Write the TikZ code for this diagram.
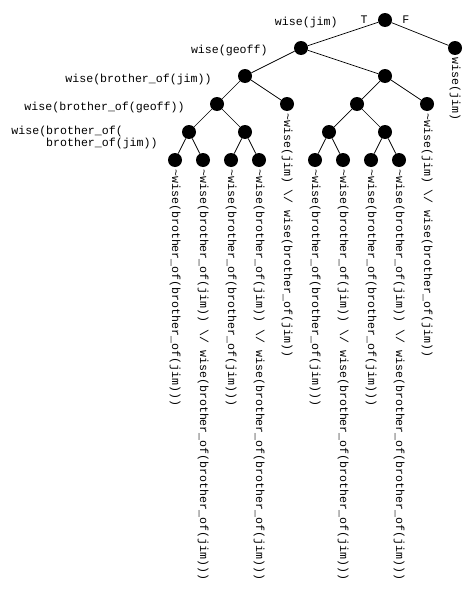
\documentclass[tikz,border=0pt]{standalone}
\usepackage{fontspec}
\setmonofont{Liberation Mono}
\usetikzlibrary{positioning}
\newcommand{\lblfont}{\ttfamily\fontsize{11.6}{12}\selectfont}
\newcommand{\nt}{\textasciitilde}
\tikzset{
    dot/.style={circle, fill=black, inner sep=0pt, minimum size=14pt},
    branch/.style={line width=0.7pt},
    levelLabel/.style={anchor=east, inner sep=0pt, font=\lblfont},
    leafLabel/.style={rotate=-90, anchor=west, inner sep=2pt, font=\lblfont}
}

\begin{document}
\begin{tikzpicture}[x=1pt, y=-1pt]
    \useasboundingbox (0,0) rectangle (474,597);

    % inner nodes
    \node (root) [dot] at (385,20) {};
    \node (wJimT) [dot] at (301,48) {};
    \node (wJimF) [dot] at (455,48) {};
    \node (wGeoffT) [dot] at (245,76) {};
    \node (wGeoffF) [dot] at (385,76) {};
    \node (bJimTT) [dot] at (217,104) {};
    \node (bJimTF) [dot] at (287,104) {};
    \node (bJimFT) [dot] at (357,104) {};
    \node (bJimFF) [dot] at (427,104) {};
    \node (bGeoffA) [dot] at (189,132) {};
    \node (bGeoffB) [dot] at (245,132) {};
    \node (bGeoffC) [dot] at (329,132) {};
    \node (bGeoffD) [dot] at (385,132) {};

    % bottom leaves
    \foreach \i/\xpos in {1/175,2/203,3/231,4/259,5/315,6/343,7/371,8/399}
        \node (leaf\i) [dot] at (\xpos,160) {};

    % branches
    \draw [branch] (root) -- (wJimT);
    \draw [branch] (root) -- (wJimF);
    \draw [branch] (wJimT) -- (wGeoffT);
    \draw [branch] (wJimT) -- (wGeoffF);
    \draw [branch] (wGeoffT) -- (bJimTT);
    \draw [branch] (wGeoffT) -- (bJimTF);
    \draw [branch] (wGeoffF) -- (bJimFT);
    \draw [branch] (wGeoffF) -- (bJimFF);
    \draw [branch] (bJimTT) -- (bGeoffA);
    \draw [branch] (bJimTT) -- (bGeoffB);
    \draw [branch] (bJimFT) -- (bGeoffC);
    \draw [branch] (bJimFT) -- (bGeoffD);
    \draw [branch] (bGeoffA) -- (leaf1);
    \draw [branch] (bGeoffA) -- (leaf2);
    \draw [branch] (bGeoffB) -- (leaf3);
    \draw [branch] (bGeoffB) -- (leaf4);
    \draw [branch] (bGeoffC) -- (leaf5);
    \draw [branch] (bGeoffC) -- (leaf6);
    \draw [branch] (bGeoffD) -- (leaf7);
    \draw [branch] (bGeoffD) -- (leaf8);

    % T / F and level labels
    \node (tLabel) [levelLabel, left=10pt of root] {T};
    \node (fLabel) [levelLabel, anchor=west, right=10pt of root] {F};
    \node (lvlJim) [levelLabel, left=40pt of root, yshift=-3pt] {wise(jim)};
    \node (lvlGeoff) [levelLabel, left=26pt of wJimT, yshift=-3pt] {wise(geoff)};
    \node (lvlBJim) [levelLabel, left=26pt of wGeoffT, yshift=-3pt] {wise(brother\_of(jim))};
    \node (lvlBGeoff) [levelLabel, left=25pt of bJimTT, yshift=-3pt] {wise(brother\_of(geoff))};
    \node (lvlBBJim) [levelLabel, align=left, left=24pt of bGeoffA, yshift=-5pt]
        {wise(brother\_of(\\\phantom{wise(}brother\_of(jim))};

    % leaf texts
    \node [leafLabel] at (wJimF.south) {wise(jim)};
    \node [leafLabel] at (bJimTF.south) {\nt wise(jim) \textbackslash/ wise(brother\_of(jim))};
    \node [leafLabel] at (bJimFF.south) {\nt wise(jim) \textbackslash/ wise(brother\_of(jim))};
    \foreach \i in {1,3,5,7}
        \node [leafLabel] at (leaf\i.south) {\nt wise(brother\_of(brother\_of(jim)))};
    \foreach \i in {2,4,6,8}
        \node [leafLabel] at (leaf\i.south) {\nt wise(brother\_of(jim)) \textbackslash/ wise(brother\_of(brother\_of(jim)))};
\end{tikzpicture}
\end{document}
